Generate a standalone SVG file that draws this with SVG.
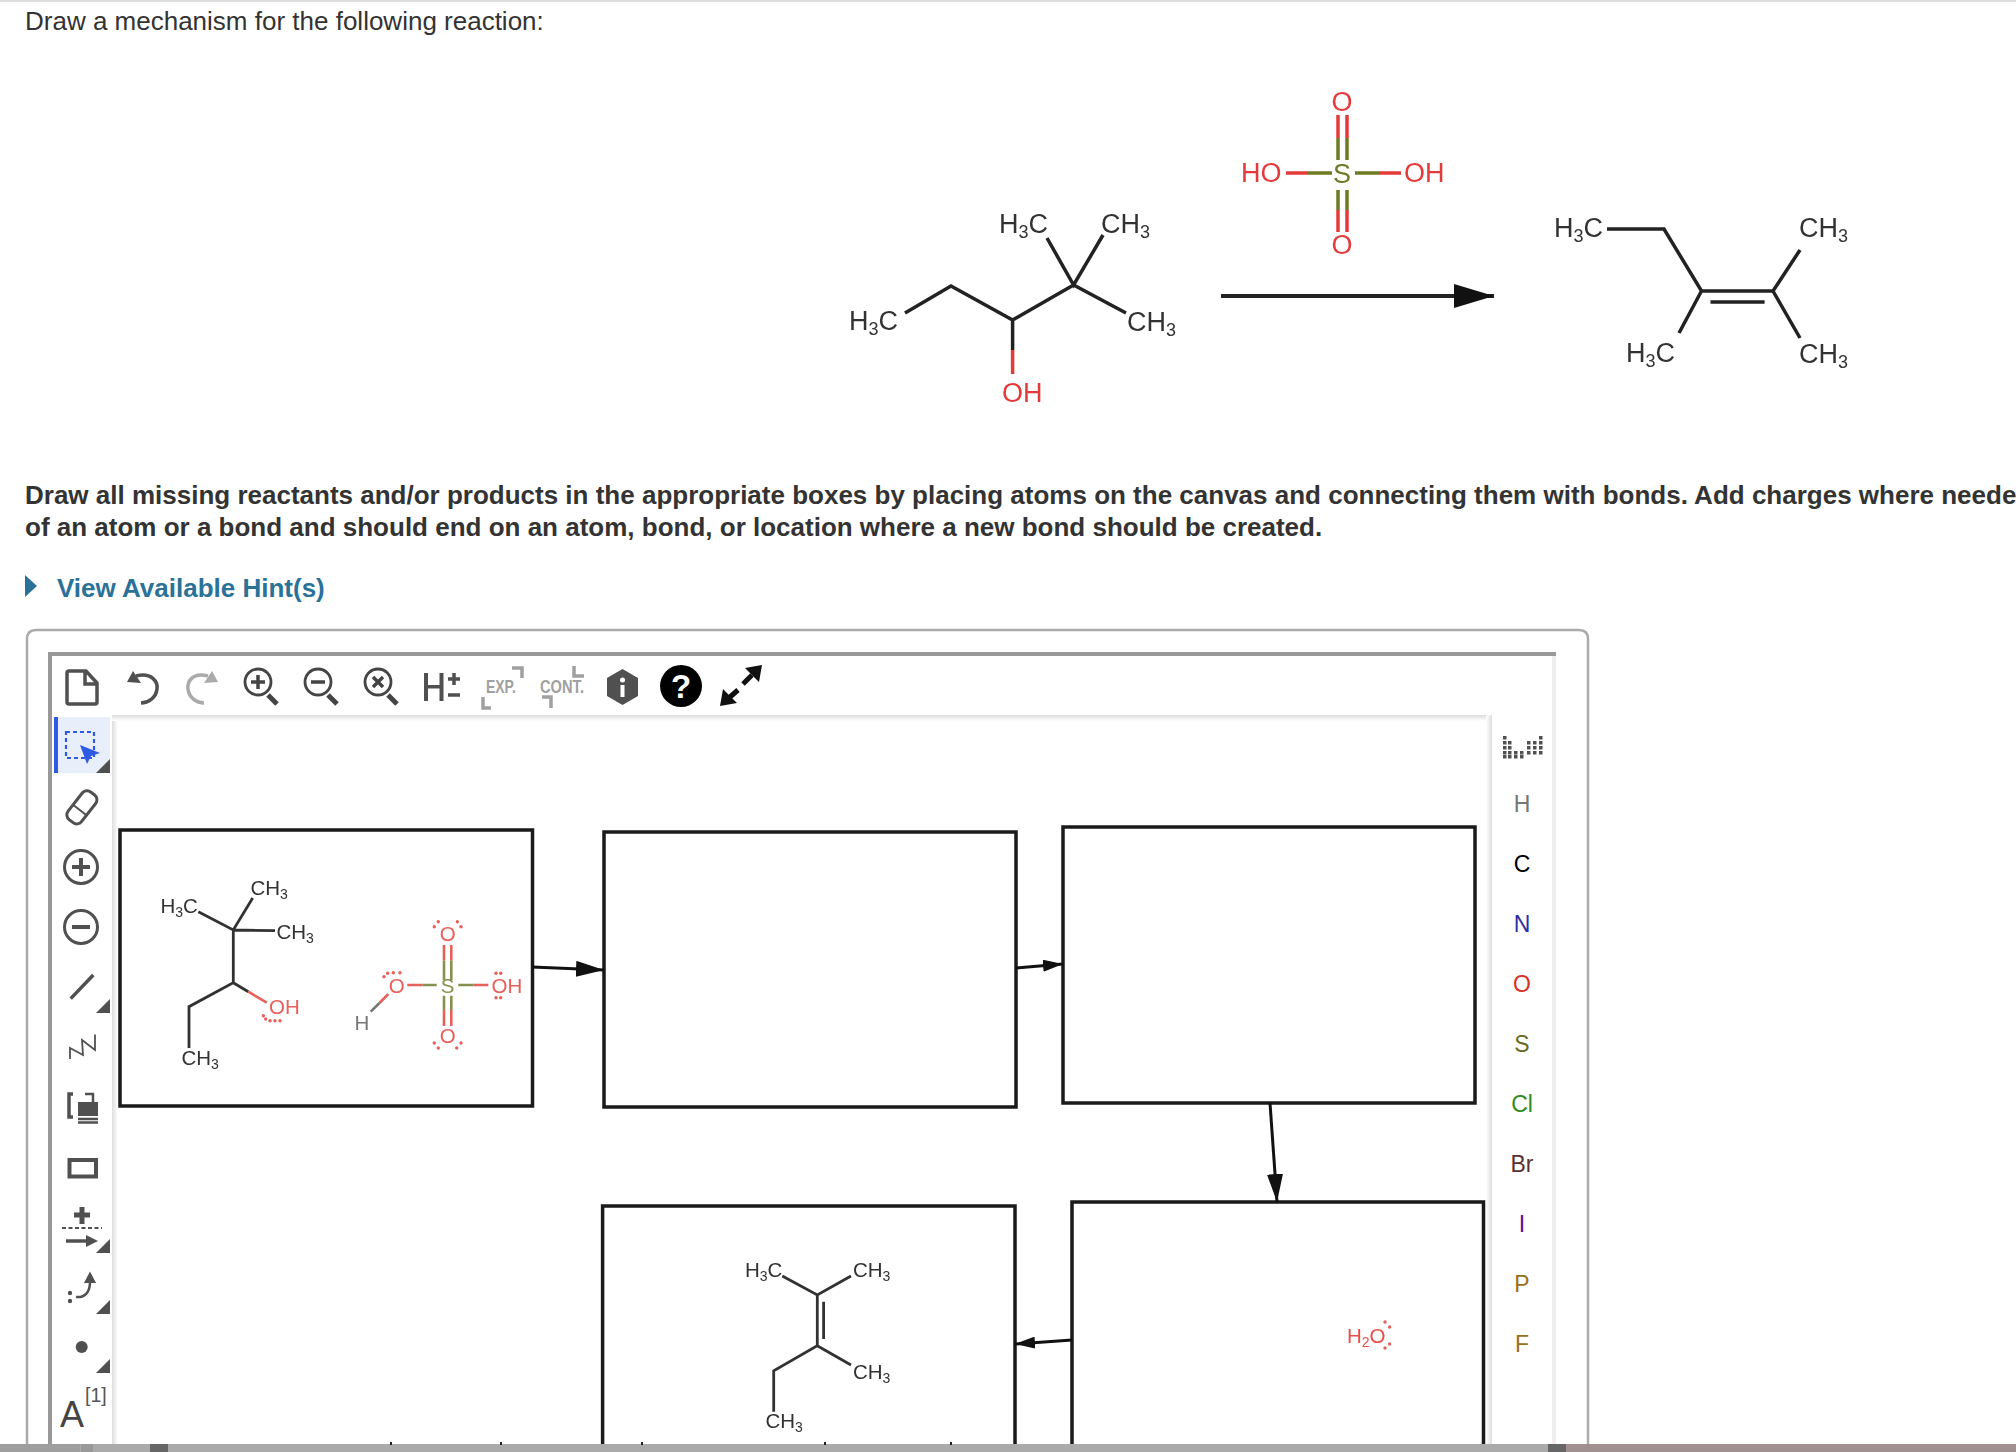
<svg xmlns="http://www.w3.org/2000/svg" width="2016" height="1452" viewBox="0 0 2016 1452">
<style>
text{font-family:"Liberation Sans",Arial,sans-serif}
.q{font-size:26px;fill:#333}
.b{font-size:26px;font-weight:bold;fill:#333}
.m{font-size:27px;fill:#333}
.s{font-size:20.500px;fill:#333}
.red{fill:#e33a3a}
.lred{fill:#e8605a}
.bd{stroke:#222;stroke-width:3.500;fill:none}
.bds{stroke:#333;stroke-width:2.800;fill:none}
.r{stroke:#e33a3a;stroke-width:3.500;fill:none}
.o{stroke:#6f7a25;stroke-width:3.500;fill:none}
.lr{stroke:#e8605a;stroke-width:2.600;fill:none}
.lo{stroke:#87904f;stroke-width:2.600;fill:none}
.box{fill:#fff;stroke:#1a1a1a;stroke-width:3.500}
.ic{fill:none;stroke:#505050;stroke-width:3.500}
.if{fill:#505050}
.el{font-size:23px;text-anchor:middle}
.ex{font-size:19px;font-weight:bold;fill:#a0a0a0}
.conn{stroke:#111;stroke-width:3;fill:none}
.d{fill:#e8605a}
.soft{filter:url(#soft)}
</style>
<defs>
<filter id="soft" x="-5%" y="-5%" width="110%" height="110%"><feGaussianBlur stdDeviation="0.5"/></filter>
<marker id="ah" viewBox="0 0 28 16" refX="28" refY="8" markerUnits="userSpaceOnUse" markerWidth="28" markerHeight="16" orient="auto"><path d="M0 0L28 8L0 16z" fill="#111"/></marker>
<marker id="ahs" viewBox="0 0 20 12" refX="20" refY="6" markerUnits="userSpaceOnUse" markerWidth="20" markerHeight="12" orient="auto"><path d="M0 0L20 6L0 12z" fill="#111"/></marker>
<g id="mag"><circle r="13" fill="none" stroke="#444" stroke-width="2.800"/><line x1="10" y1="13" x2="19" y2="22" stroke="#444" stroke-width="5"/></g>
<path id="tri" d="M14 0V14H0z" fill="#505050"/>
<linearGradient id="shL" x1="0" x2="1" y1="0" y2="0"><stop offset="0" stop-color="#ddd"/><stop offset="1" stop-color="#fff"/></linearGradient>
<linearGradient id="shR" x1="1" x2="0" y1="0" y2="0"><stop offset="0" stop-color="#ddd"/><stop offset="1" stop-color="#fff"/></linearGradient>
<linearGradient id="shT" x1="0" x2="0" y1="0" y2="1"><stop offset="0" stop-color="#ddd"/><stop offset="1" stop-color="#fff"/></linearGradient>
</defs>
<rect width="2016" height="1452" fill="#fff"/>
<rect width="2016" height="2" fill="#ddd"/>
<g id="question">
<text class="q" x="25" y="30">Draw a mechanism for the following reaction:</text>
<text class="b" x="25" y="504">Draw all missing reactants and/or products in the appropriate boxes by placing atoms on the canvas and connecting them with bonds. Add charges where neede</text>
<text class="b" x="25" y="536">of an atom or a bond and should end on an atom, bond, or location where a new bond should be created.</text>
<path d="M25 575L37 586L25 597z" fill="#2b7299"/>
<text x="57" y="597" font-size="26" font-weight="bold" fill="#2b7299">View Available Hint(s)</text>
</g>
<g id="reactant" class="soft">
<path class="bd" d="M905 313L951 286L1012.600 320L1073.600 285L1126 313M1047 238L1073.600 285L1103 235M1012.600 320V350"/>
<path class="r" d="M1012.600 350V374"/>
<text class="m" x="849" y="330">H<tspan font-size="18" dy="5">3</tspan><tspan dy="-5">C</tspan></text>
<text class="m" x="999" y="233">H<tspan font-size="18" dy="5">3</tspan><tspan dy="-5">C</tspan></text>
<text class="m" x="1101" y="233">CH<tspan font-size="18" dy="5">3</tspan></text>
<text class="m" x="1127" y="331">CH<tspan font-size="18" dy="5">3</tspan></text>
<text class="m red" x="1002" y="402">OH</text>
</g>
<g id="acid" class="soft">
<path class="r" d="M1286 173H1308M1379 173H1401M1338 115V138M1347 115V138M1338 210V232M1347 210V232"/>
<path class="o" d="M1308 173H1332M1355 173H1379M1338 138V160M1347 138V160M1338 190V210M1347 190V210"/>
<text class="m red" x="1342" y="111" text-anchor="middle">O</text>
<text class="m red" x="1342" y="254" text-anchor="middle">O</text>
<text class="m red" x="1241" y="182">HO</text>
<text class="m red" x="1404" y="182">OH</text>
<text class="m" x="1342" y="183" text-anchor="middle" style="fill:#6f7a25">S</text>
</g>
<g id="product" class="soft">
<path class="bd" d="M1607 229H1664L1701.500 291H1773L1800 250M1701.500 291L1679 333M1773 291L1800 338M1710.500 302H1764.600"/>
<text class="m" x="1554" y="237">H<tspan font-size="18" dy="5">3</tspan><tspan dy="-5">C</tspan></text>
<text class="m" x="1799" y="237">CH<tspan font-size="18" dy="5">3</tspan></text>
<text class="m" x="1626" y="362">H<tspan font-size="18" dy="5">3</tspan><tspan dy="-5">C</tspan></text>
<text class="m" x="1799" y="363">CH<tspan font-size="18" dy="5">3</tspan></text>
</g>
<g id="panel">
<path d="M27 1444V639Q27 630 36 630H1579Q1588 630 1588 639V1444" fill="none" stroke="#aaa" stroke-width="2.500"/>
<rect x="48" y="652" width="1508" height="4" fill="#999"/>
<rect x="48" y="652" width="4" height="792" fill="#999"/>
<rect x="1552" y="656" width="4" height="788" fill="#eee"/>
<rect x="112" y="715" width="6" height="729" fill="url(#shL)"/>
<rect x="112" y="715" width="1380" height="6" fill="url(#shT)"/>
<rect x="1486" y="715" width="6" height="729" fill="url(#shR)"/>
</g>
<g id="toolbar-top">
<path class="ic" d="M69 671H86L97 683V702Q97 704 95 704H69Q67 704 67 702V673Q67 671 69 671ZM85 671V684H97"/>
<path class="ic" d="M136 676C152 672 158 682 157 689C156 698 148 703 141 703"/><path class="if" d="M127 682L133 671L141 683z"/>
<path class="ic" style="stroke:#aaa" d="M208 676C192 672 187 682 188 689C189 698 197 703 204 703"/><path fill="#aaa" d="M218 682L212 671L204 683z"/>
<use href="#mag" x="258" y="682"/><path d="M258 675V689M251 682H265" stroke="#444" stroke-width="3.500"/>
<use href="#mag" x="318" y="682"/><path d="M311 682H325" stroke="#444" stroke-width="3.500"/>
<use href="#mag" x="378" y="682"/><path d="M373 677L383 687M383 677L373 687" stroke="#444" stroke-width="3.500"/>
<path class="if" d="M424 673h4v12h11.500v-12h4v28h-4v-12.500h-11.500v12.500h-4z"/><path d="M448 679H460M454 673V685M448 695H460" stroke="#505050" stroke-width="3.500"/>
<text class="ex" x="486" y="693" textLength="30" lengthAdjust="spacingAndGlyphs">EXP.</text>
<path d="M512 668H522V678M491 708H483V697" fill="none" stroke="#a0a0a0" stroke-width="3.500"/>
<text class="ex" x="540" y="693" textLength="44" lengthAdjust="spacingAndGlyphs">CONT.</text>
<path d="M574 666V676H584M542 697H551V708" fill="none" stroke="#a0a0a0" stroke-width="3.500"/>
<path class="if" d="M622.500 669L638 678V696L622.500 705L607 696V678z"/><circle cx="622.500" cy="680" r="2.500" fill="#fff"/><rect x="620.500" y="685" width="4" height="12" fill="#fff"/>
<ellipse cx="681" cy="686" rx="21" ry="21" fill="#000"/><text x="681" y="698" font-size="33" font-weight="bold" fill="#fff" text-anchor="middle">?</text>
<path d="M762 665L745 668L759 682zM720 706L737 703L723 689z" fill="#111"/><path d="M752 675L743 684M730 697L738 690" stroke="#111" stroke-width="5"/>
</g>
<g id="toolbar-left">
<rect x="54" y="717" width="56" height="56" fill="#e8eefa"/><rect x="54" y="717" width="4" height="56" fill="#2d5be3"/>
<rect x="66" y="732" width="28" height="26" fill="none" stroke="#2d5be3" stroke-width="2.200" stroke-dasharray="4 3"/>
<path d="M80 745L100 753L91 756L87 764z" fill="#2d5be3"/>
<use href="#tri" x="96" y="759"/>
<g transform="rotate(-52 81.500 807)"><rect x="64" y="799" width="35" height="17" rx="6" class="ic" style="stroke-width:3"/><path d="M78 799V816" stroke="#505050" stroke-width="2"/></g>
<circle cx="81" cy="867" r="16.500" class="ic" style="stroke-width:3"/><path d="M81 858V876M72 867H90" stroke="#505050" stroke-width="4"/>
<circle cx="81" cy="927" r="16.500" class="ic" style="stroke-width:3"/><path d="M72 927H90" stroke="#505050" stroke-width="4"/>
<path class="ic" d="M70.700 998.600L93.300 975"/><use href="#tri" x="96" y="999"/>
<path class="ic" style="stroke-width:1.800" d="M70 1059V1048L83 1055L82 1040L95 1050V1034.500"/>
<path class="ic" d="M73 1094H69V1117H73"/><path class="if" d="M78 1102H98V1116H78z"/><path class="ic" style="stroke-width:2.500" d="M85 1094H93V1103M78 1119H98M78 1122.500H98"/>
<rect x="69.500" y="1160" width="26.500" height="16.500" class="ic" style="stroke-width:4"/>
<path d="M82 1207V1224M74 1215H90" stroke="#505050" stroke-width="5"/><path d="M62 1228H102" stroke="#505050" stroke-width="2" stroke-dasharray="4 2.500"/><path d="M66 1241H90" stroke="#505050" stroke-width="3.500"/><path class="if" d="M86 1235L98 1241L86 1247z"/><use href="#tri" x="96" y="1239"/>
<circle cx="70" cy="1293" r="2.200" class="if"/><circle cx="70" cy="1301" r="2.200" class="if"/><path class="ic" style="stroke-width:2.500" d="M76 1297C85 1298 90 1292 90 1282"/><path class="if" d="M90 1271.500L96 1283H84z"/><use href="#tri" x="96" y="1300"/>
<circle cx="81.700" cy="1347" r="6" class="if"/><use href="#tri" x="96" y="1359"/>
<text x="60" y="1427" font-size="36" fill="#444">A</text><text x="85" y="1402" font-size="19.500" fill="#555">[1]</text>
</g>
<g id="palette">
<path class="if" d="M1503 736h3.500v3.500h-3.500zM1539 736h3.500v3.500h-3.500zM1503 741h3.500v3.500h-3.500zM1508 741h3.500v3.500h-3.500zM1527 741h3.500v3.500h-3.500zM1533 741h3.500v3.500h-3.500zM1539 741h3.500v3.500h-3.500zM1503 746h3.500v3.500h-3.500zM1508 746h3.500v3.500h-3.500zM1527 746h3.500v3.500h-3.500zM1533 746h3.500v3.500h-3.500zM1539 746h3.500v3.500h-3.500zM1503 751h3.500v3.500h-3.500zM1508 751h3.500v3.500h-3.500zM1514 751h3.500v3.500h-3.500zM1520 751h3.500v3.500h-3.500zM1527 751h3.500v3.500h-3.500zM1533 751h3.500v3.500h-3.500zM1539 751h3.500v3.500h-3.500zM1503 755h3.500v3.500h-3.500zM1508 755h3.500v3.500h-3.500zM1514 755h3.500v3.500h-3.500zM1520 755h3.500v3.500h-3.500z"/>
<text class="el" x="1522" y="812" fill="#777">H</text>
<text class="el" x="1522" y="872" fill="#000">C</text>
<text class="el" x="1522" y="932" fill="#2f2f9f">N</text>
<text class="el" x="1522" y="992" fill="#d9302a">O</text>
<text class="el" x="1522" y="1052" fill="#6b6b1f">S</text>
<text class="el" x="1522" y="1112" fill="#2e8b1e">Cl</text>
<text class="el" x="1522" y="1172" fill="#5a3030">Br</text>
<text class="el" x="1522" y="1232" fill="#5a0a9a">I</text>
<text class="el" x="1522" y="1292" fill="#9a6f1a">P</text>
<text class="el" x="1522" y="1352" fill="#9a6f1a">F</text>
</g>
<g id="box1">
<rect class="box" x="120" y="830" width="412.500" height="276"/>
<g class="soft">
<path class="bds" d="M252.700 898L233.300 930L198.300 911.700M233.300 930L275 930.700M233.300 930V982.700L189 1006.700V1048M233.300 982.700L248.300 991.700"/>
<path class="lr" d="M248.300 991.700L266.700 1002.700M407.300 985H422.700M473.300 985H488.300M388.300 994L379.500 1003M444 945V960.700M451.300 945V960.700M444 1010V1026M451.300 1010V1026"/>
<path class="lo" d="M422.700 985H436.700M458.300 985H473.300M444 960.700V980M451.300 960.700V980M444 995.700V1010M451.300 995.700V1010"/>
<path d="M379.500 1003L370.700 1011.700" stroke="#777" stroke-width="2.600"/>
<text class="s" x="250.500" y="895">CH<tspan font-size="14" dy="4">3</tspan></text>
<text class="s" x="160.500" y="912.500">H<tspan font-size="14" dy="4">3</tspan><tspan dy="-4">C</tspan></text>
<text class="s" x="276.500" y="939">CH<tspan font-size="14" dy="4">3</tspan></text>
<text class="s" x="181.500" y="1065">CH<tspan font-size="14" dy="4">3</tspan></text>
<text class="s lred" x="269" y="1014">OH</text>
<text class="s lred" x="447.700" y="941" text-anchor="middle">O</text>
<text class="s lred" x="447.700" y="1043" text-anchor="middle">O</text>
<text class="s lred" x="396.700" y="993" text-anchor="middle">O</text>
<text class="s lred" x="491.500" y="992.500">OH</text>
<text class="s" x="447.700" y="992.500" text-anchor="middle" style="fill:#87904f">S</text>
<text class="s" x="362" y="1029.500" text-anchor="middle" style="fill:#777">H</text>
<g class="d"><circle cx="263.300" cy="1015.700" r="1.700"/><circle cx="265.700" cy="1019" r="1.700"/><circle cx="270" cy="1020.700" r="1.700"/><circle cx="275" cy="1020.700" r="1.700"/><circle cx="280" cy="1020.700" r="1.700"/><circle cx="434.300" cy="926.700" r="1.700"/><circle cx="438.300" cy="921.700" r="1.700"/><circle cx="457.300" cy="921.700" r="1.700"/><circle cx="461" cy="926.700" r="1.700"/><circle cx="434.300" cy="1043" r="1.700"/><circle cx="438.300" cy="1048" r="1.700"/><circle cx="456.700" cy="1048" r="1.700"/><circle cx="461" cy="1043" r="1.700"/><circle cx="384" cy="976.700" r="1.700"/><circle cx="387.700" cy="973.300" r="1.700"/><circle cx="393.300" cy="972.700" r="1.700"/><circle cx="400" cy="972.700" r="1.700"/><circle cx="496" cy="973.300" r="1.700"/><circle cx="500.700" cy="973.300" r="1.700"/><circle cx="496" cy="997.700" r="1.700"/><circle cx="500.700" cy="997.700" r="1.700"/></g>
</g>
</g>
<g id="box2"><rect class="box" x="604" y="832" width="412" height="275"/></g>
<g id="box3"><rect class="box" x="1063" y="827" width="412" height="276"/></g>
<g id="box4">
<rect class="box" x="1072" y="1202" width="411.500" height="280"/>
<g class="soft">
<text class="s" x="1347" y="1342.500" style="fill:#e8504a">H<tspan font-size="14" dy="4">2</tspan><tspan dy="-4">O</tspan></text>
<g class="d"><circle cx="1385" cy="1322" r="1.700"/><circle cx="1389.600" cy="1327" r="1.700"/><circle cx="1389.600" cy="1344" r="1.700"/><circle cx="1385" cy="1348" r="1.700"/></g>
</g>
</g>
<g id="box5">
<rect class="box" x="602.600" y="1206" width="412.400" height="276"/>
<g class="soft">
<path class="bds" d="M782.300 1276L817.300 1295L851 1276M817.300 1295V1345.700L773.700 1370.700V1411.700M817.300 1345.700L851 1365M823.600 1301.700V1339"/>
<text class="s" x="745" y="1277">H<tspan font-size="14" dy="4">3</tspan><tspan dy="-4">C</tspan></text>
<text class="s" x="853" y="1277">CH<tspan font-size="14" dy="4">3</tspan></text>
<text class="s" x="853" y="1379">CH<tspan font-size="14" dy="4">3</tspan></text>
<text class="s" x="765.500" y="1428">CH<tspan font-size="14" dy="4">3</tspan></text>
</g>
</g>
<g id="connectors">
<path d="M1221 296H1494" stroke="#222" stroke-width="4" fill="none"/><path d="M1454 284L1494 296L1454 308z" fill="#111"/>
<path class="conn" d="M532 967L604 970" marker-end="url(#ah)"/>
<path class="conn" d="M1016 968L1063 964" marker-end="url(#ahs)"/>
<path class="conn" d="M1270 1103L1277 1202" marker-end="url(#ah)"/>
<path class="conn" d="M1072 1340L1015 1344" marker-end="url(#ahs)"/>
</g>
<g id="bottom-bar">
<rect y="1444" width="2016" height="8" fill="#aaa"/>
<rect width="80" y="1444" height="8" fill="#9e9e9e"/><rect x="81" y="1444" width="12" height="8" fill="#999"/>
<rect x="150" y="1444" width="18" height="8" fill="#666"/><rect x="1548" y="1444" width="18" height="8" fill="#666"/><rect x="1566" y="1444" width="450" height="8" fill="#a09090"/>
<path d="M391 1442v3M501 1442v3M642 1442v3M825 1442v3M951 1442v3" stroke="#222" stroke-width="2"/>
</g>
</svg>
